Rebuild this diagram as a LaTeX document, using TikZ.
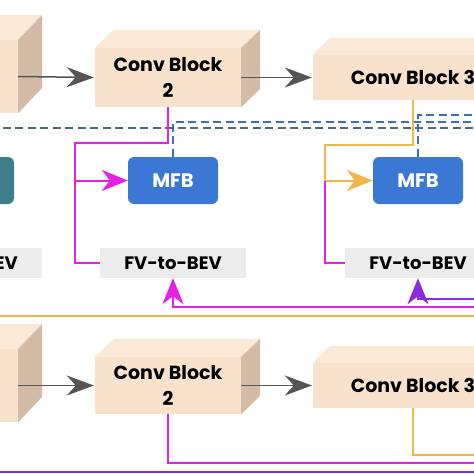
\documentclass[tikz,border=0pt]{standalone}
\usepackage{fontspec}
\setmainfont{Poppins}
\usetikzlibrary{arrows.meta}
\definecolor{blockfront}{HTML}{F9E2CB}
\definecolor{blocktop}{HTML}{FBE9D8}
\definecolor{blockside}{HTML}{D3BBA5}
\definecolor{mfbblue}{HTML}{3A78D4}
\definecolor{mfbteal}{HTML}{3E7F8B}
\definecolor{fvgray}{HTML}{ECECEC}
\definecolor{wiremag}{HTML}{E81FE6}
\definecolor{wirepur}{HTML}{8A2BE2}
\definecolor{wireyel}{HTML}{F0B64A}
\definecolor{dashblue}{HTML}{3C6FC2}
\definecolor{dashgray}{HTML}{4F6B78}
\definecolor{arrgray}{HTML}{555555}
\begin{document}
\begin{tikzpicture}[x=1pt,y=-1pt,
    conv/.style={fill=blockfront,inner sep=0pt,align=center,
      font=\fontsize{19}{26}\selectfont\bfseries},
    mfb/.style={fill=mfbblue,rounded corners=6pt,minimum width=90pt,minimum height=47pt,
      text=white,font=\fontsize{19.5}{22}\selectfont\bfseries},
    fv/.style={fill=fvgray,minimum width=146pt,minimum height=30pt,
      font=\fontsize{18}{20}\selectfont\bfseries},
    flow/.style={draw=arrgray,line width=1.5pt,-{Stealth[length=27pt,width=20pt,inset=9pt]},shorten >=1pt},
    magwire/.style={draw=wiremag,line width=2pt},
    purwire/.style={draw=wirepur,line width=2pt},
    yelwire/.style={draw=wireyel,line width=2pt},
    wiretip/.style={-{Stealth[length=26pt,width=21pt,inset=8pt]}},
    dashb/.style={draw=dashblue,line width=1.8pt,dash pattern=on 8pt off 4.5pt},
    dashg/.style={draw=dashgray,line width=1.8pt,dash pattern=on 8pt off 4.5pt}]
  \useasboundingbox (0,0) rectangle (474,474);
  \clip (0,0) rectangle (474,474);
  \fill[white] (0,0) rectangle (474,474);

  \node[conv,minimum width=136pt,minimum height=73pt] (b1) at (-50,76.5) {};
  \node[conv,minimum width=146pt,minimum height=59pt] (b2) at (168,77.5) {Conv Block\\2};
  \node[conv,minimum width=200pt,minimum height=45pt] (b3) at (413,77.5) {Conv Block 3};
  \node[conv,minimum width=136pt,minimum height=73pt] (c1) at (-50,385.5) {};
  \node[conv,minimum width=146pt,minimum height=57pt] (c2) at (168,385.5) {Conv Block\\2};
  \node[conv,minimum width=200pt,minimum height=45pt] (c3) at (413,385.5) {Conv Block 3};

  \fill[blocktop] (b1.north west) -- ++(24,-25) -- ++(136,0) -- (b1.north east) -- cycle;
  \fill[blockside] (b1.north east) -- ++(24,-25) -- ++(0,73) -- (b1.south east) -- cycle;
  \fill[blocktop] (b2.north west) -- ++(19,-18) -- ++(146,0) -- (b2.north east) -- cycle;
  \fill[blockside] (b2.north east) -- ++(19,-18) -- ++(0,59) -- (b2.south east) -- cycle;
  \fill[blocktop] (b3.north west) -- ++(17,-17) -- ++(200,0) -- (b3.north east) -- cycle;
  \fill[blockside] (b3.north east) -- ++(17,-17) -- ++(0,45) -- (b3.south east) -- cycle;
  \fill[blocktop] (c1.north west) -- ++(24,-25) -- ++(136,0) -- (c1.north east) -- cycle;
  \fill[blockside] (c1.north east) -- ++(24,-25) -- ++(0,73) -- (c1.south east) -- cycle;
  \fill[blocktop] (c2.north west) -- ++(19,-18) -- ++(146,0) -- (c2.north east) -- cycle;
  \fill[blockside] (c2.north east) -- ++(19,-18) -- ++(0,57) -- (c2.south east) -- cycle;
  \fill[blocktop] (c3.north west) -- ++(17,-17) -- ++(200,0) -- (c3.north east) -- cycle;
  \fill[blockside] (c3.north east) -- ++(17,-17) -- ++(0,45) -- (c3.south east) -- cycle;

  \node[mfb,fill=mfbteal] (m0) at (-31,180.5) {};
  \node[mfb] (m1) at (173,180.5) {MFB};
  \node[mfb] (m2) at (418,180.5) {MFB};
  \node[fv] (f0) at (-31,263) {FV-to-BEV};
  \node[fv] (f1) at (173,263) {FV-to-BEV};
  \node[fv] (f2) at (418,263) {FV-to-BEV};

  \coordinate (tap1) at (75,143);
  \coordinate (tap2) at (325,145);
  \coordinate (e0) at (480,128);
  \coordinate (e1) at (480,122);
  \coordinate (e2) at (480,115);
  \coordinate (e3) at (480,307);
  \coordinate (e4) at (480,299);
  \coordinate (w0) at (-10,316);
  \coordinate (w1) at (480,316);
  \coordinate (e6) at (480,463);
  \coordinate (e7) at (480,455);
  \coordinate (w2) at (-10,472);
  \coordinate (w3) at (480,472);

  \begin{scope}
    \draw[flow] (b1.east) -- (b2.west);
    \draw[flow] (b2.east) -- (b3.west);
    \draw[flow] (c1.east) -- (c2.west);
    \draw[flow] (c2.east) -- (c3.west);

    \draw[dashg] (m0.north) |- (e0);
    \draw[dashb] (m1.north) |- (e1);
    \draw[dashb] (m2.north) |- (e2);

    \draw[magwire] (b2.south) |- (tap1) |- (f1.west);
    \draw[magwire,wiretip] (tap1 |- m1.west) -- (m1.west);
    \draw[yelwire] (b3.south) |- (tap2) -- (tap2 |- m2.west);
    \draw[yelwire,wiretip] (tap2 |- m2.west) -- (m2.west);
    \draw[magwire] (tap2 |- m2.west) |- (f2.west);

    \draw[magwire,wiretip] (e3) -| (f1.south);
    \draw[purwire,wiretip] (e4) -| (f2.south);
    \draw[yelwire] (w0) -- (w1);

    \draw[magwire] (c2.south) |- (e6);
    \draw[yelwire] (c3.south) |- (e7);
    \draw[purwire] (w2) -- (w3);
  \end{scope}
\end{tikzpicture}
\end{document}
